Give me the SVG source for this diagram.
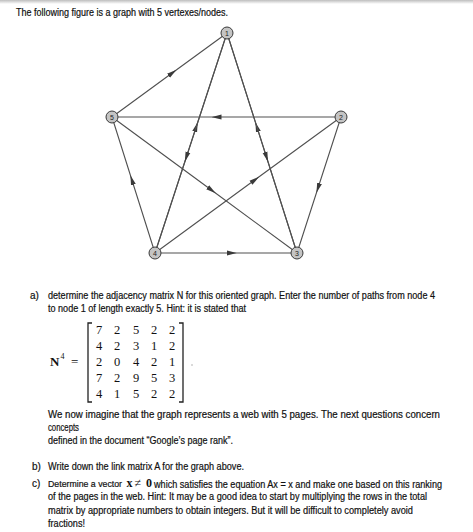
<svg xmlns="http://www.w3.org/2000/svg" width="473" height="532" viewBox="0 0 473 532">
<defs>
<linearGradient id="topShade" x1="0" y1="0" x2="0" y2="1">
<stop offset="0" stop-color="#bdbdbd"/>
<stop offset="1" stop-color="#ffffff"/>
</linearGradient>
<marker id="arr" viewBox="0 0 10 6" refX="5" refY="3" markerWidth="10" markerHeight="6" markerUnits="userSpaceOnUse" orient="auto">
<path d="M0,0.5 L10,3 L0,5.5 Z" fill="#3a3a3a"/>
</marker>
<style>
.t{font-family:"Liberation Sans","Open Sans",Arial,sans-serif;font-size:10px;fill:#111;stroke:#111;stroke-width:0.2}
.t9{font-size:9px}
.e{fill:none;stroke:#505050;stroke-width:1.1;marker-mid:url(#arr)}
.n circle{fill:#c4c4c4;stroke:#3a3a3a;stroke-width:1}
.n text{font-family:"Liberation Sans",Arial,sans-serif;font-size:7px;fill:#222;text-anchor:middle}
.m{font-family:"Liberation Serif","Times New Roman",serif;font-size:12.5px;fill:#111;text-anchor:middle}
.s{font-family:"Liberation Serif","Times New Roman",serif;font-size:13px;fill:#111}
.sup{font-family:"Liberation Serif","Times New Roman",serif;font-size:8px;fill:#111}
.v{font-family:"Liberation Serif","Times New Roman",serif;font-size:12px;fill:#111}
.br{fill:none;stroke:#222;stroke-width:1.3}
</style>
</defs>
<rect x="0" y="0" width="473" height="532" fill="#ffffff"/>
<rect x="0" y="0" width="473" height="4" fill="url(#topShade)"/>

<text class="t" x="16" y="16" textLength="212" lengthAdjust="spacingAndGlyphs">The following figure is a graph with 5 vertexes/nodes.</text>

<g id="connectors">
<path class="e" d="M112,117 L172.5,72.8 L227,33"/>
<path class="e" d="M341,117 L216.5,117 L112,117"/>
<path class="e" d="M155,253 L196.2,127 L227,33"/>
<path class="e" d="M227,33 L186.4,157 L155,253"/>
<path class="e" d="M297,253 L256.9,127 L227,33"/>
<path class="e" d="M227,33 L266.5,157 L297,253"/>
<path class="e" d="M155,253 L131.9,180 L112,117"/>
<path class="e" d="M112,117 L211.7,190.3 L297,253"/>
<path class="e" d="M155,253 L255,179.8 L341,117"/>
<path class="e" d="M341,117 L318,188 L297,253"/>
<path class="e" d="M155,253 L231.7,253 L297,253"/>
</g>

<g id="node1" class="n"><circle cx="227" cy="33" r="6"/><text x="227" y="35.5">1</text></g>
<g id="node2" class="n"><circle cx="341" cy="117" r="6"/><text x="341" y="119.5">2</text></g>
<g id="node3" class="n"><circle cx="297" cy="253" r="6"/><text x="297" y="255.5">3</text></g>
<g id="node4" class="n"><circle cx="155" cy="253" r="6"/><text x="155" y="255.5">4</text></g>
<g id="node5" class="n"><circle cx="112" cy="117" r="6"/><text x="112" y="119.5">5</text></g>

<text class="t" x="30" y="299">a)</text>
<text class="t" x="48" y="299" textLength="387" lengthAdjust="spacingAndGlyphs">determine the adjacency matrix N for this oriented graph. Enter the number of paths from node 4</text>
<text class="t" x="48" y="312" textLength="198" lengthAdjust="spacingAndGlyphs">to node 1 of length exactly 5. Hint: it is stated that</text>

<g id="matrix">
<text class="s" x="50" y="366" font-weight="bold">N</text>
<text class="sup" x="60.5" y="359">4</text>
<text class="s" x="71" y="366">=</text>
<path class="br" d="M92,323 L88,323 L88,402 L92,402"/>
<path class="br" d="M179,323 L183,323 L183,402 L179,402"/>
<g class="m">
<text x="99" y="334">7</text><text x="117" y="334">2</text><text x="136" y="334">5</text><text x="154" y="334">2</text><text x="172" y="334">2</text>
<text x="99" y="350">4</text><text x="117" y="350">2</text><text x="136" y="350">3</text><text x="154" y="350">1</text><text x="172" y="350">2</text>
<text x="99" y="366">2</text><text x="117" y="366">0</text><text x="136" y="366">4</text><text x="154" y="366">2</text><text x="172" y="366">1</text>
<text x="99" y="382">7</text><text x="117" y="382">2</text><text x="136" y="382">9</text><text x="154" y="382">5</text><text x="172" y="382">3</text>
<text x="99" y="398">4</text><text x="117" y="398">1</text><text x="136" y="398">5</text><text x="154" y="398">2</text><text x="172" y="398">2</text>
</g>
<circle cx="192" cy="365" r="0.7" fill="#999"/>
</g>

<text class="t" x="48" y="418" textLength="392" lengthAdjust="spacingAndGlyphs">We now imagine that the graph represents a web with 5 pages. The next questions concern</text>
<text class="t" x="48" y="431" textLength="31" lengthAdjust="spacingAndGlyphs">concepts</text>
<text class="t" x="48" y="444" textLength="185" lengthAdjust="spacingAndGlyphs">defined in the document “Google’s page rank”.</text>

<text class="t" x="32" y="470">b)</text>
<text class="t" x="48" y="470" textLength="196" lengthAdjust="spacingAndGlyphs">Write down the link matrix A for the graph above.</text>

<text class="t" x="32" y="487">c)</text>
<text class="t t9" x="48" y="487" textLength="74" lengthAdjust="spacingAndGlyphs">Determine a vector</text>
<text class="v" x="126.5" y="487" font-weight="bold">x</text>
<text class="v" x="134.5" y="487">≠</text>
<text class="v" x="146" y="487" font-weight="bold">0</text>
<text class="t" x="154" y="488" textLength="288" lengthAdjust="spacingAndGlyphs">which satisfies the equation Ax = x and make one based on this ranking</text>
<text class="t" x="48" y="500" textLength="379" lengthAdjust="spacingAndGlyphs">of the pages in the web. Hint: It may be a good idea to start by multiplying the rows in the total</text>
<text class="t" x="48" y="514" textLength="365" lengthAdjust="spacingAndGlyphs">matrix by appropriate numbers to obtain integers. But it will be difficult to completely avoid</text>
<text class="t" x="48" y="527" textLength="37" lengthAdjust="spacingAndGlyphs">fractions!</text>
</svg>
